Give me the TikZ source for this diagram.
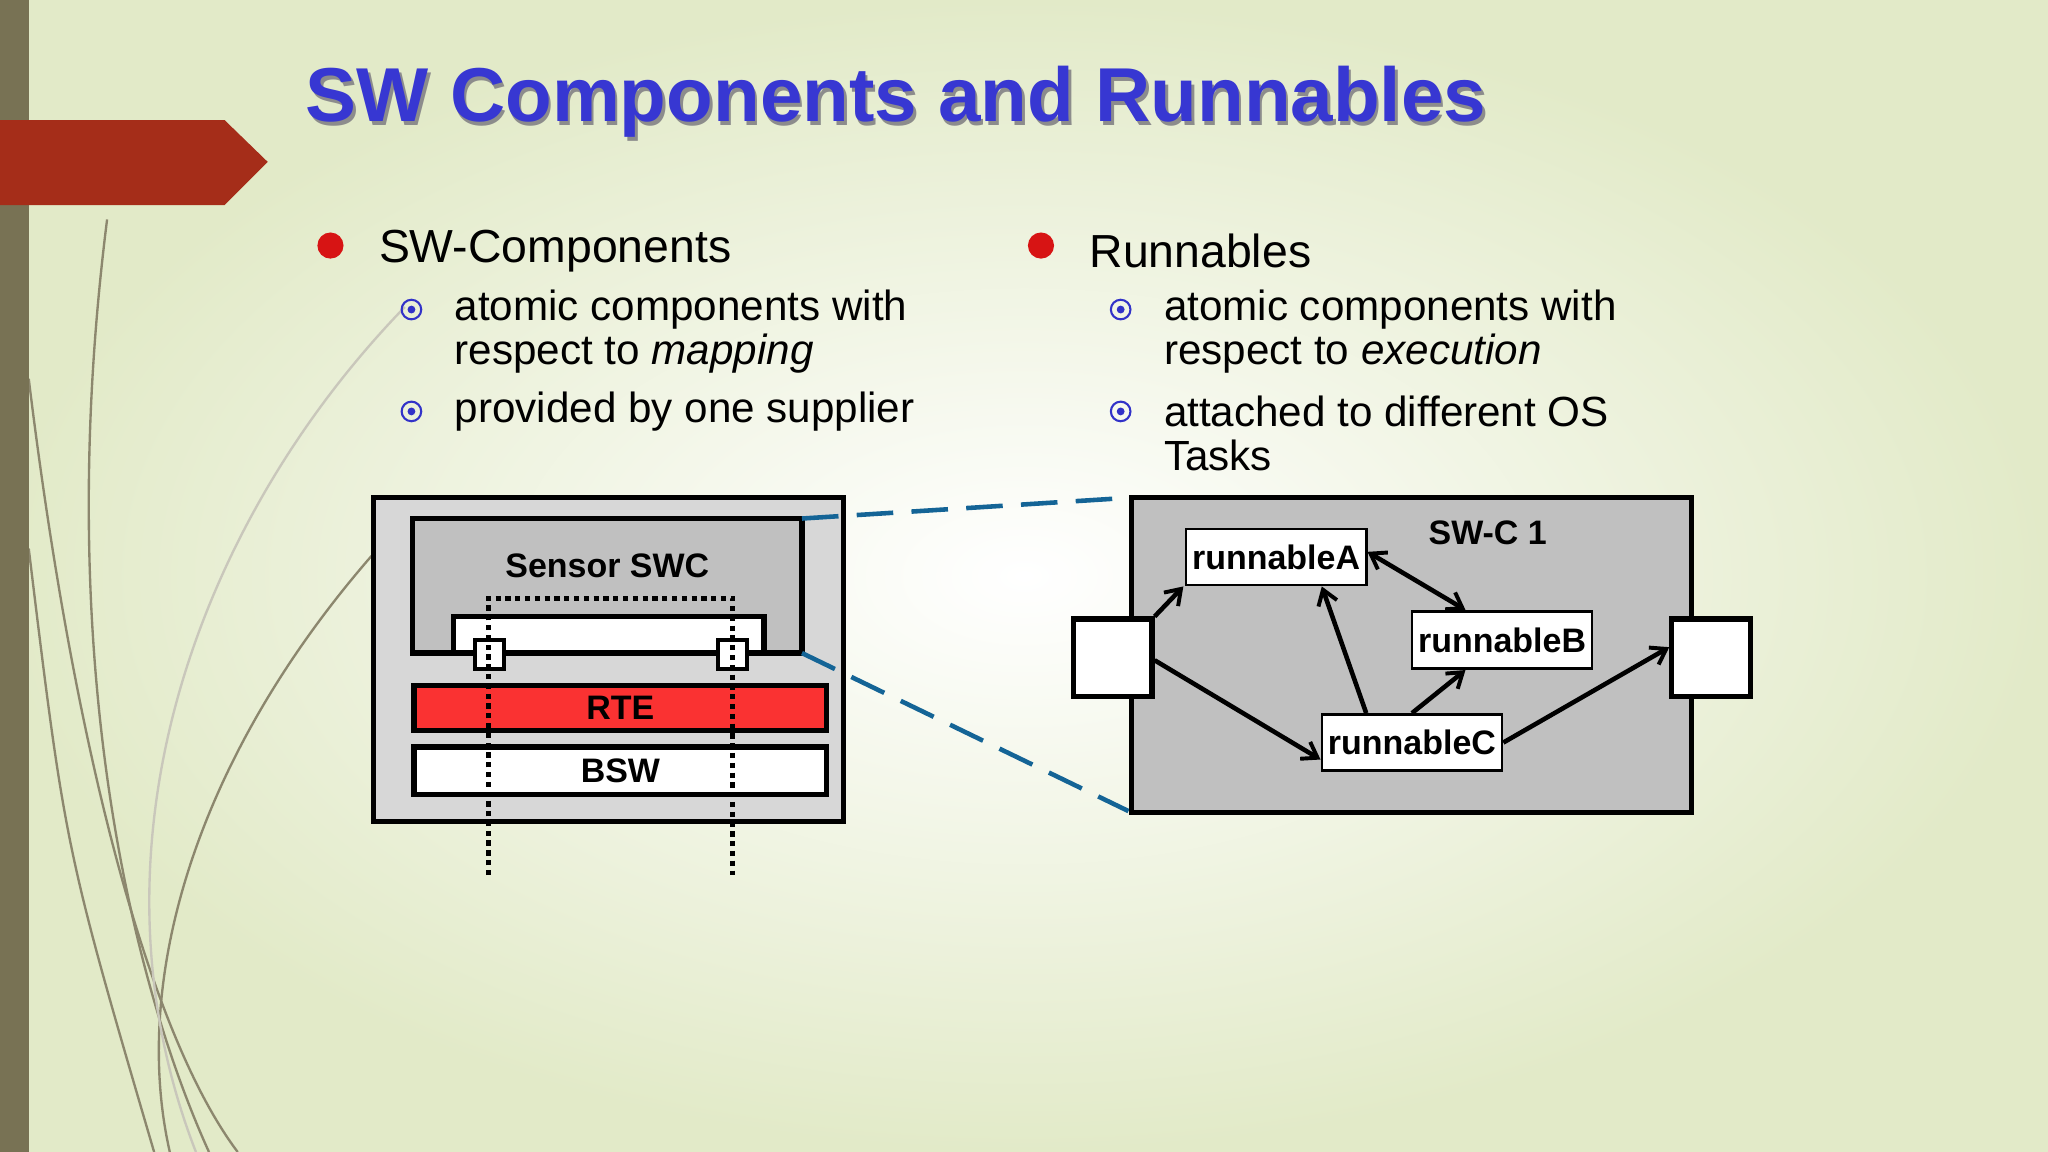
\documentclass[tikz,border=0pt]{standalone}
\usepackage{fontspec}
\setmainfont{Liberation Sans}
\usetikzlibrary{arrows.meta}
\definecolor{olive}{RGB}{120,114,84}
\definecolor{arrowred}{RGB}{165,45,25}
\definecolor{ttl}{RGB}{55,55,210}
\definecolor{bulred}{RGB}{215,20,20}
\definecolor{subblue}{RGB}{50,50,200}
\definecolor{dashblue}{RGB}{20,100,150}
\definecolor{lgray}{RGB}{215,215,215}
\definecolor{mgray}{RGB}{192,192,192}
\definecolor{rte}{RGB}{250,50,50}
\tikzset{
  box/.style={draw=black,line width=4pt,inner sep=0pt,font=\fontsize{26}{28}\selectfont\bfseries},
  thin box/.style={draw=black,line width=2pt,inner sep=0pt,fill=white,font=\fontsize{26}{28}\selectfont\bfseries},
  tip/.tip={Straight Barb[length=11pt,width=15pt,line width=3pt]},
  conn/.style={line width=3.5pt,-tip},
  dotl/.style={line width=4pt,dash pattern=on 4pt off 3.5pt},
  zoomline/.style={dashblue,line width=3.5pt,dash pattern=on 28pt off 14pt},
  bigt/.style={font=\fontsize{35.5}{38}\selectfont,anchor=west,inner sep=0pt},
  subt/.style={font=\fontsize{32.3}{34}\selectfont,anchor=west,inner sep=0pt,align=left},
  curve/.style={draw=olive!85,line width=1.8pt}
}
\begin{document}
\begin{tikzpicture}[x=1pt,y=-1pt]
\useasboundingbox (0,0) rectangle (1568,882);
\shade[inner color=white,outer color={rgb,255:red,226;green,234;blue,200}] (0,0) rectangle (1568,882);
% curves
\draw[curve] (82,168) .. controls (40,500) and (100,750) .. (160,882);
\draw[curve] (22,290) .. controls (60,600) and (120,800) .. (182,882);
\draw[curve] (285,425) .. controls (150,580) and (100,750) .. (130,882);
\draw[curve,draw=olive!40] (310,235) .. controls (150,400) and (60,650) .. (150,882);
\draw[curve] (22,420) .. controls (50,650) .. (118,882);
\fill[olive] (0,0) rectangle (22,882);
\fill[arrowred] (0,92) -- (172,92) -- (205,124) -- (172,157) -- (0,157) -- cycle;
% title
\node[font=\fontsize{58.5}{60}\selectfont\bfseries,text=black!45,inner sep=0pt] (tsh) at (688,81) {SW Components and Runnables};
\node[font=\fontsize{58.5}{60}\selectfont\bfseries,text=ttl,inner sep=0pt] (title) at (686,78) {SW Components and Runnables};
% bullets left
\fill[bulred] (253,188) circle (10);
\node[bigt] (l1) at (290,192) {SW-Components};
\draw[subblue,line width=1.6pt] (315,237) circle (7.5); \fill[subblue] (315,237) circle (3);
\node[subt] (l2) at (348,237) {atomic components with};
\node[subt] (l3) at (348,271) {respect to \textit{mapping}};
\draw[subblue,line width=1.6pt] (315,315) circle (7.5); \fill[subblue] (315,315) circle (3);
\node[subt] (l4) at (348,315) {provided by one supplier};
% bullets right
\fill[bulred] (797,188) circle (10);
\node[bigt] (r1) at (834,192) {Runnables};
\draw[subblue,line width=1.6pt] (858,237) circle (7.5); \fill[subblue] (858,237) circle (3);
\node[subt] (r2) at (891,237) {atomic components with};
\node[subt] (r3) at (891,271) {respect to \textit{execution}};
\draw[subblue,line width=1.6pt] (858,315) circle (7.5); \fill[subblue] (858,315) circle (3);
\node[subt] (r4) at (891,315) {attached to different OS};
\node[subt] (r5) at (891,349) {Tasks};
% left diagram
\node[box,fill=lgray,minimum width=360pt,minimum height=248pt] (outer) at (466,505) {};
\node[box,fill=mgray,minimum width=298pt,minimum height=103pt] (swc) at (465,448.5) {};
\node[font=\fontsize{26}{28}\selectfont\bfseries,inner sep=0pt] (swclbl) at (465,433) {Sensor SWC};
\node[box,fill=white,minimum width=238pt,minimum height=28pt] (bar) at (466,486) {};
\node[box,fill=rte,minimum width=316pt,minimum height=34pt] (rte) at (475,542) {RTE};
\node[box,fill=white,minimum width=316pt,minimum height=36pt] (bsw) at (475,590) {BSW};
\node[box,fill=white,line width=3pt,minimum width=22pt,minimum height=22pt] (p1) at (375,501) {};
\node[box,fill=white,line width=3pt,minimum width=22pt,minimum height=22pt] (p2) at (561,501) {};
\coordinate (d1b) at (374,670); \coordinate (d2b) at (561,670);
\coordinate (d1t) at (374,458); \coordinate (d2t) at (561,458);
\draw[dotl] (d1b) -- (d1t) -- (d2t) -- (d2b);
% zoom lines
\coordinate (z1) at (614,397); \coordinate (z2) at (866,381);
\coordinate (z3) at (614,500); \coordinate (z4) at (864,621);
\draw[zoomline] (z1) -- (z2);
\draw[zoomline] (z3) -- (z4);
% right diagram
\node[box,fill=mgray,minimum width=429pt,minimum height=241pt] (swc1) at (1080.5,501.5) {};
\node[font=\fontsize{26}{28}\selectfont\bfseries,inner sep=0pt] (swc1l) at (1139,408) {SW-C 1};
\node[thin box,minimum width=138pt,minimum height=43pt] (ra) at (977,426.5) {runnableA};
\node[thin box,minimum width=138pt,minimum height=44pt] (rb) at (1150,490) {runnableB};
\node[thin box,minimum width=138pt,minimum height=43pt] (rc) at (1081,568.5) {runnableC};
\node[box,fill=white,minimum width=60pt,minimum height=59pt] (pl) at (852,503.5) {};
\node[box,fill=white,minimum width=60pt,minimum height=59pt] (pr) at (1310,503.5) {};
\draw[conn] (pl.north east) -- ([xshift=-1pt]ra.south west);
\draw[conn] ([yshift=-2pt]pl.east) -- ([yshift=-13pt]rc.west);
\draw[conn] ([xshift=-35pt]rc.north) -- ([xshift=35pt]ra.south);
\draw[conn,tip-tip] ([yshift=4pt]ra.east) -- ([xshift=-28pt]rb.north);
\draw[conn] (rc.north) -- ([xshift=-28pt]rb.south);
\draw[conn] (rc.east) -- ([yshift=8pt]pr.west);
\end{tikzpicture}
\end{document}
